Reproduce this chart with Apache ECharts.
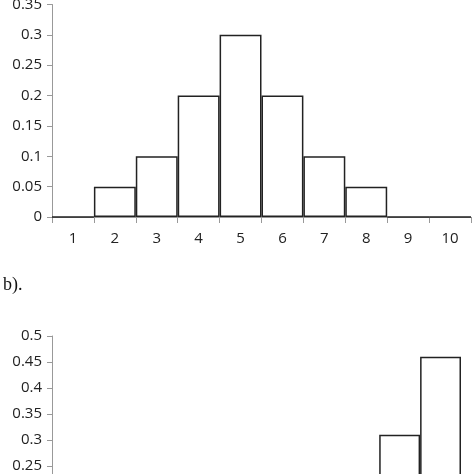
<!DOCTYPE html>
<html><head><meta charset="utf-8">
<script src="https://cdn.jsdelivr.net/npm/echarts@6/dist/echarts.min.js"></script>
<style>html,body{margin:0;padding:0;overflow:hidden;background:#fff;width:474px;height:474px}</style>
</head><body>
<div id="c" style="width:474px;height:640px;margin-top:-3px"></div>
<script>
const categories = ['1','2','3','4','5','6','7','8','9','10'];
const valuesA = [0, 0.05, 0.1, 0.2, 0.3, 0.2, 0.1, 0.05, 0, 0];
const valuesB = [0, 0, 0, 0, 0, 0, 0, 0, 0.31, 0.46];
const chart = echarts.init(document.getElementById('c'), null, {renderer:'canvas'});
const lab = {color:'#222', fontFamily:'Open Sans, DejaVu Sans, sans-serif', fontSize:15};
function yAx(i, max){
  return {gridIndex:i, type:'value', min:0, max:max, interval:0.05,
    axisLine:{show:true, lineStyle:{color:'#999'}}, axisTick:{show:true, length:5, lineStyle:{color:'#999'}},
    splitLine:{show:false}, axisLabel:Object.assign({margin:10, formatter:v=>String(+v.toFixed(2))}, lab)};
}
function xAx(i){
  return {gridIndex:i, type:'category', data:categories, boundaryGap:true,
    axisLine:{lineStyle:{color:'#999'}}, axisTick:{show:true, length:6, lineStyle:{color:'#999'}},
    axisLabel:Object.assign({margin:14}, lab)};
}
const barStyle = {color:'#fff', borderColor:'#222', borderWidth:1.5};
chart.setOption({
  animation:false,
  graphic:[{type:'text', left:3, top:279, style:{text:'b).', font:'18px "Liberation Serif", serif', fill:'#111'}}],
  grid:[{left:52, right:3, top:6, height:214},{left:52, right:13, top:339, height:260}],
  xAxis:[xAx(0), xAx(1)],
  yAxis:[yAx(0,0.35), yAx(1,0.5)],
  series:[
    {type:'bar', xAxisIndex:0, yAxisIndex:0, data:valuesA, barCategoryGap:'0%', itemStyle:barStyle},
    {type:'bar', xAxisIndex:1, yAxisIndex:1, data:valuesB, barCategoryGap:'0%', itemStyle:barStyle}
  ]
});
</script></body></html>
